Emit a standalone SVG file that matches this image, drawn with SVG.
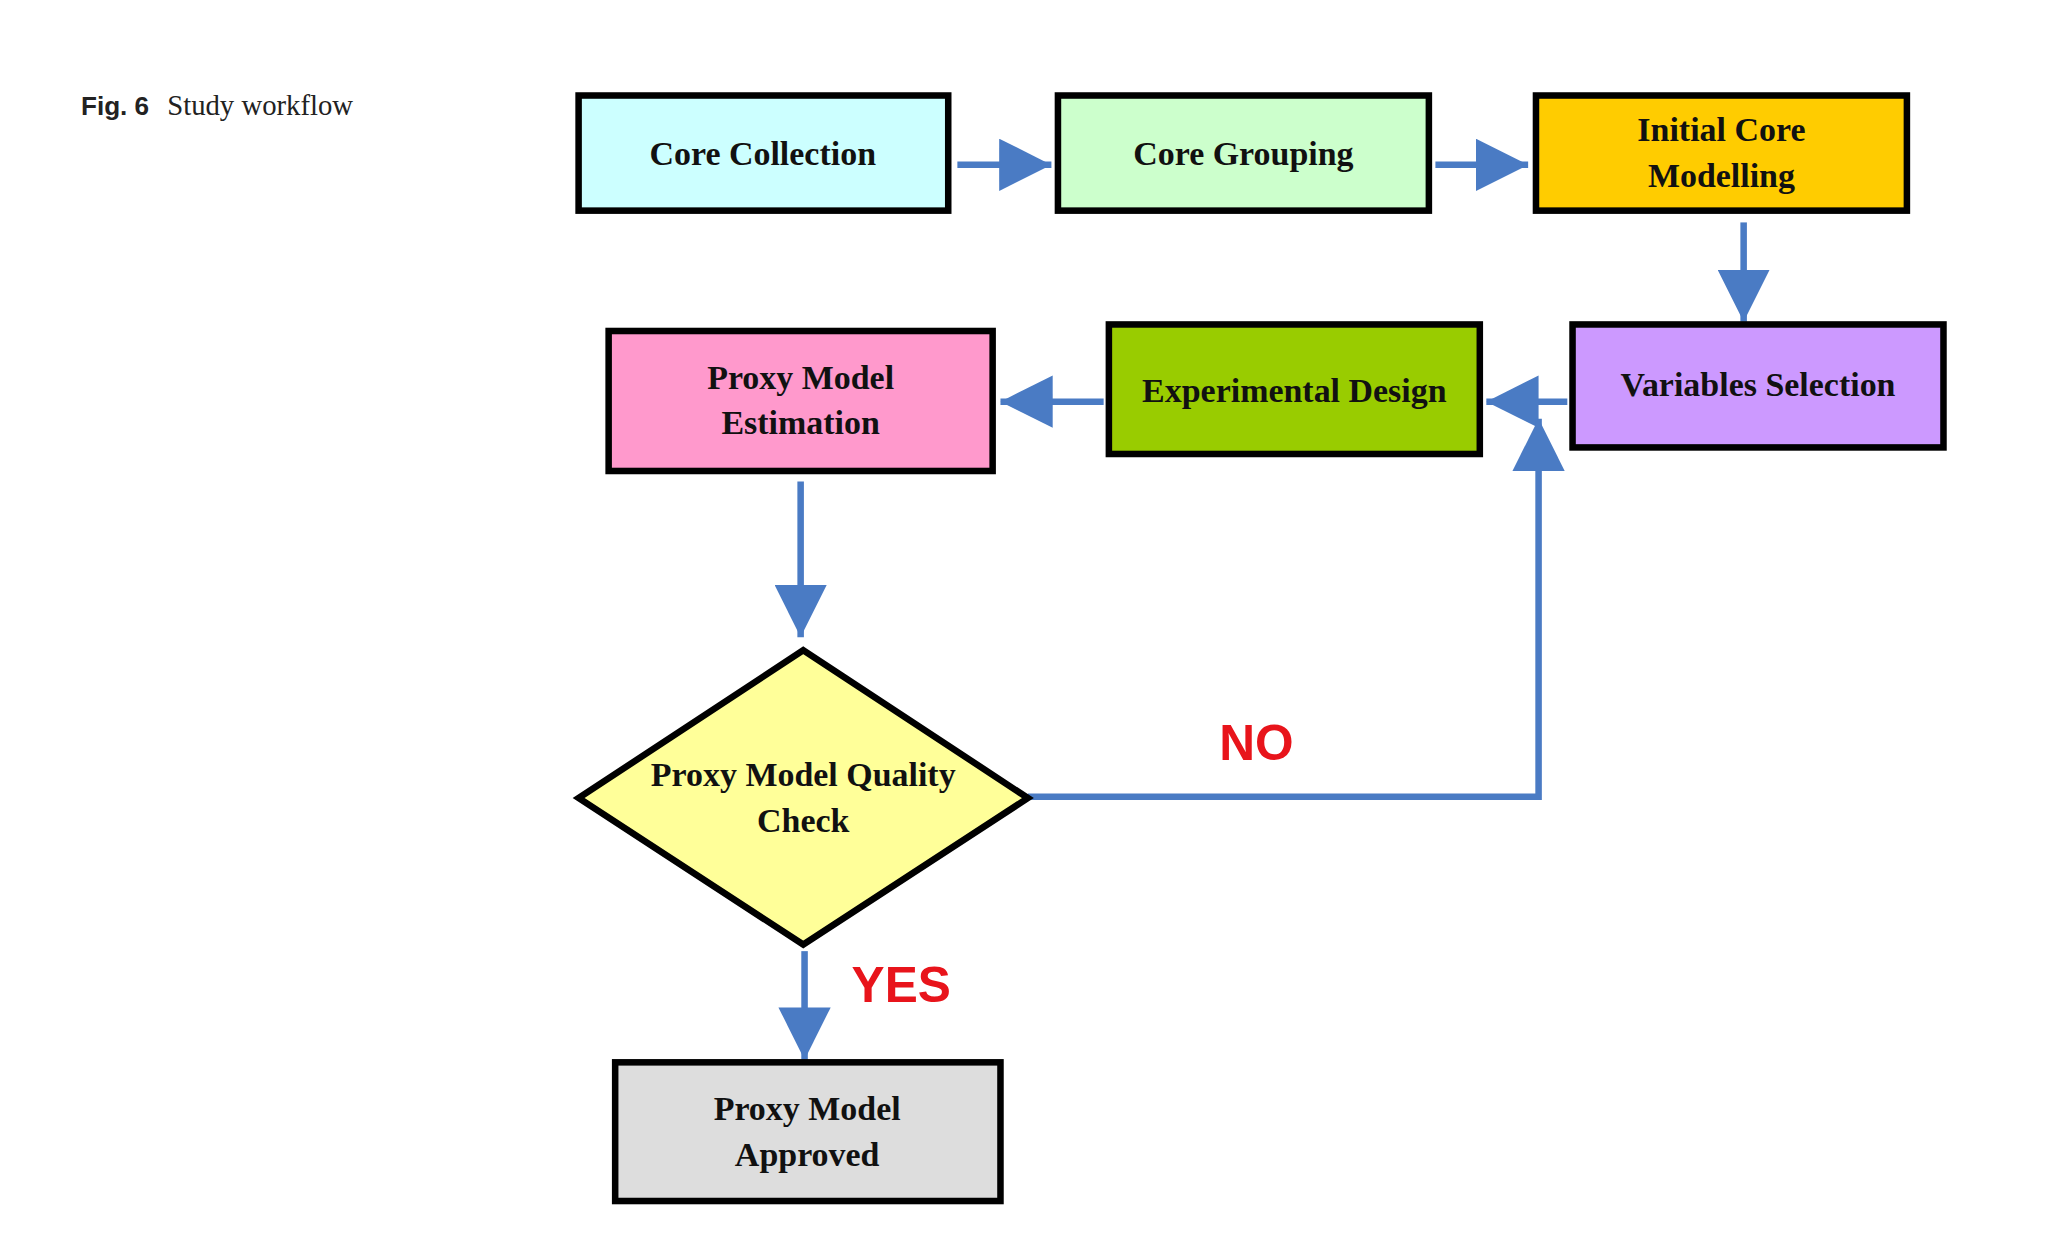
<svg xmlns="http://www.w3.org/2000/svg" width="2048" height="1256" viewBox="0 0 2048 1256">
<style>
.b{stroke:#000;stroke-width:5}
.t{font-family:"Liberation Serif",serif;font-weight:bold;font-size:26px;text-anchor:middle;fill:#111}
.c{stroke:#4a7bc4;stroke-width:5;fill:none}
.r{font-family:"Liberation Sans",sans-serif;font-weight:bold;font-size:38px;fill:#e8141b;text-anchor:middle}
</style>
<defs><marker id="a" viewBox="0 0 10 10" refX="9" refY="5" markerWidth="7" markerHeight="6" markerUnits="userSpaceOnUse" orient="auto"><path d="M0,0L10,5L0,10z" fill="#4a7bc4"/></marker>
<marker id="h" viewBox="0 0 10 10" refX="10" refY="5" markerWidth="8" markerHeight="8" orient="auto"><path d="M0,0L10,5L0,10z" fill="#4a7bc4"/></marker></defs>
<rect width="2048" height="1256" fill="#fff"/>
<g transform="scale(1.3061 1.3083)">
<text x="62" y="88" font-family="Liberation Sans,sans-serif" font-weight="bold" font-size="20" fill="#222">Fig. 6</text>
<text x="128" y="88" font-family="Liberation Serif,serif" font-size="22" fill="#222">Study workflow</text>
<g id="connectors">
<path class="c" d="M733,126H805" marker-end="url(#h)"/>
<path class="c" d="M1099,126H1170" marker-end="url(#h)"/>
<path class="c" d="M1335,170V246" marker-end="url(#h)"/>
<path class="c" d="M1200,307H1138" marker-end="url(#h)"/>
<path class="c" d="M845,307H766" marker-end="url(#h)"/>
<path class="c" d="M613,368V487" marker-end="url(#h)"/>
<path class="c" d="M787,609H1178V320" marker-end="url(#h)"/>
<path class="c" d="M616,727V810" marker-end="url(#h)"/>
</g>
<g id="n1"><rect class="b" x="443" y="73" width="283" height="88" fill="#ccffff"/><text class="t" x="584" y="126">Core Collection</text></g>
<g id="n2"><rect class="b" x="810" y="73" width="284" height="88" fill="#ccffcc"/><text class="t" x="952" y="126">Core Grouping</text></g>
<g id="n3"><rect class="b" x="1176" y="73" width="284" height="88" fill="#ffcc00"/><text class="t" x="1318" y="108">Initial Core</text><text class="t" x="1318" y="143">Modelling</text></g>
<g id="n4"><rect class="b" x="1204" y="248" width="284" height="94" fill="#cc99ff"/><text class="t" x="1346" y="303">Variables Selection</text></g>
<g id="n5"><rect class="b" x="849" y="248" width="284" height="99" fill="#99cc00"/><text class="t" x="991" y="307">Experimental Design</text></g>
<g id="n6"><rect class="b" x="466" y="253" width="294" height="107" fill="#ff99cc"/><text class="t" x="613" y="297">Proxy Model</text><text class="t" x="613" y="332">Estimation</text></g>
<g id="n7"><polygon class="b" points="615,497 787,610 615,722 443,610" fill="#ffff99"/><text class="t" x="615" y="601">Proxy Model Quality</text><text class="t" x="615" y="636">Check</text></g>
<g id="n8"><rect class="b" x="471" y="812" width="295" height="106" fill="#dddddd"/><text class="t" x="618" y="856">Proxy Model</text><text class="t" x="618" y="891">Approved</text></g>
<text class="r" x="962" y="581">NO</text>
<text class="r" x="690" y="766">YES</text>
</g>
</svg>
